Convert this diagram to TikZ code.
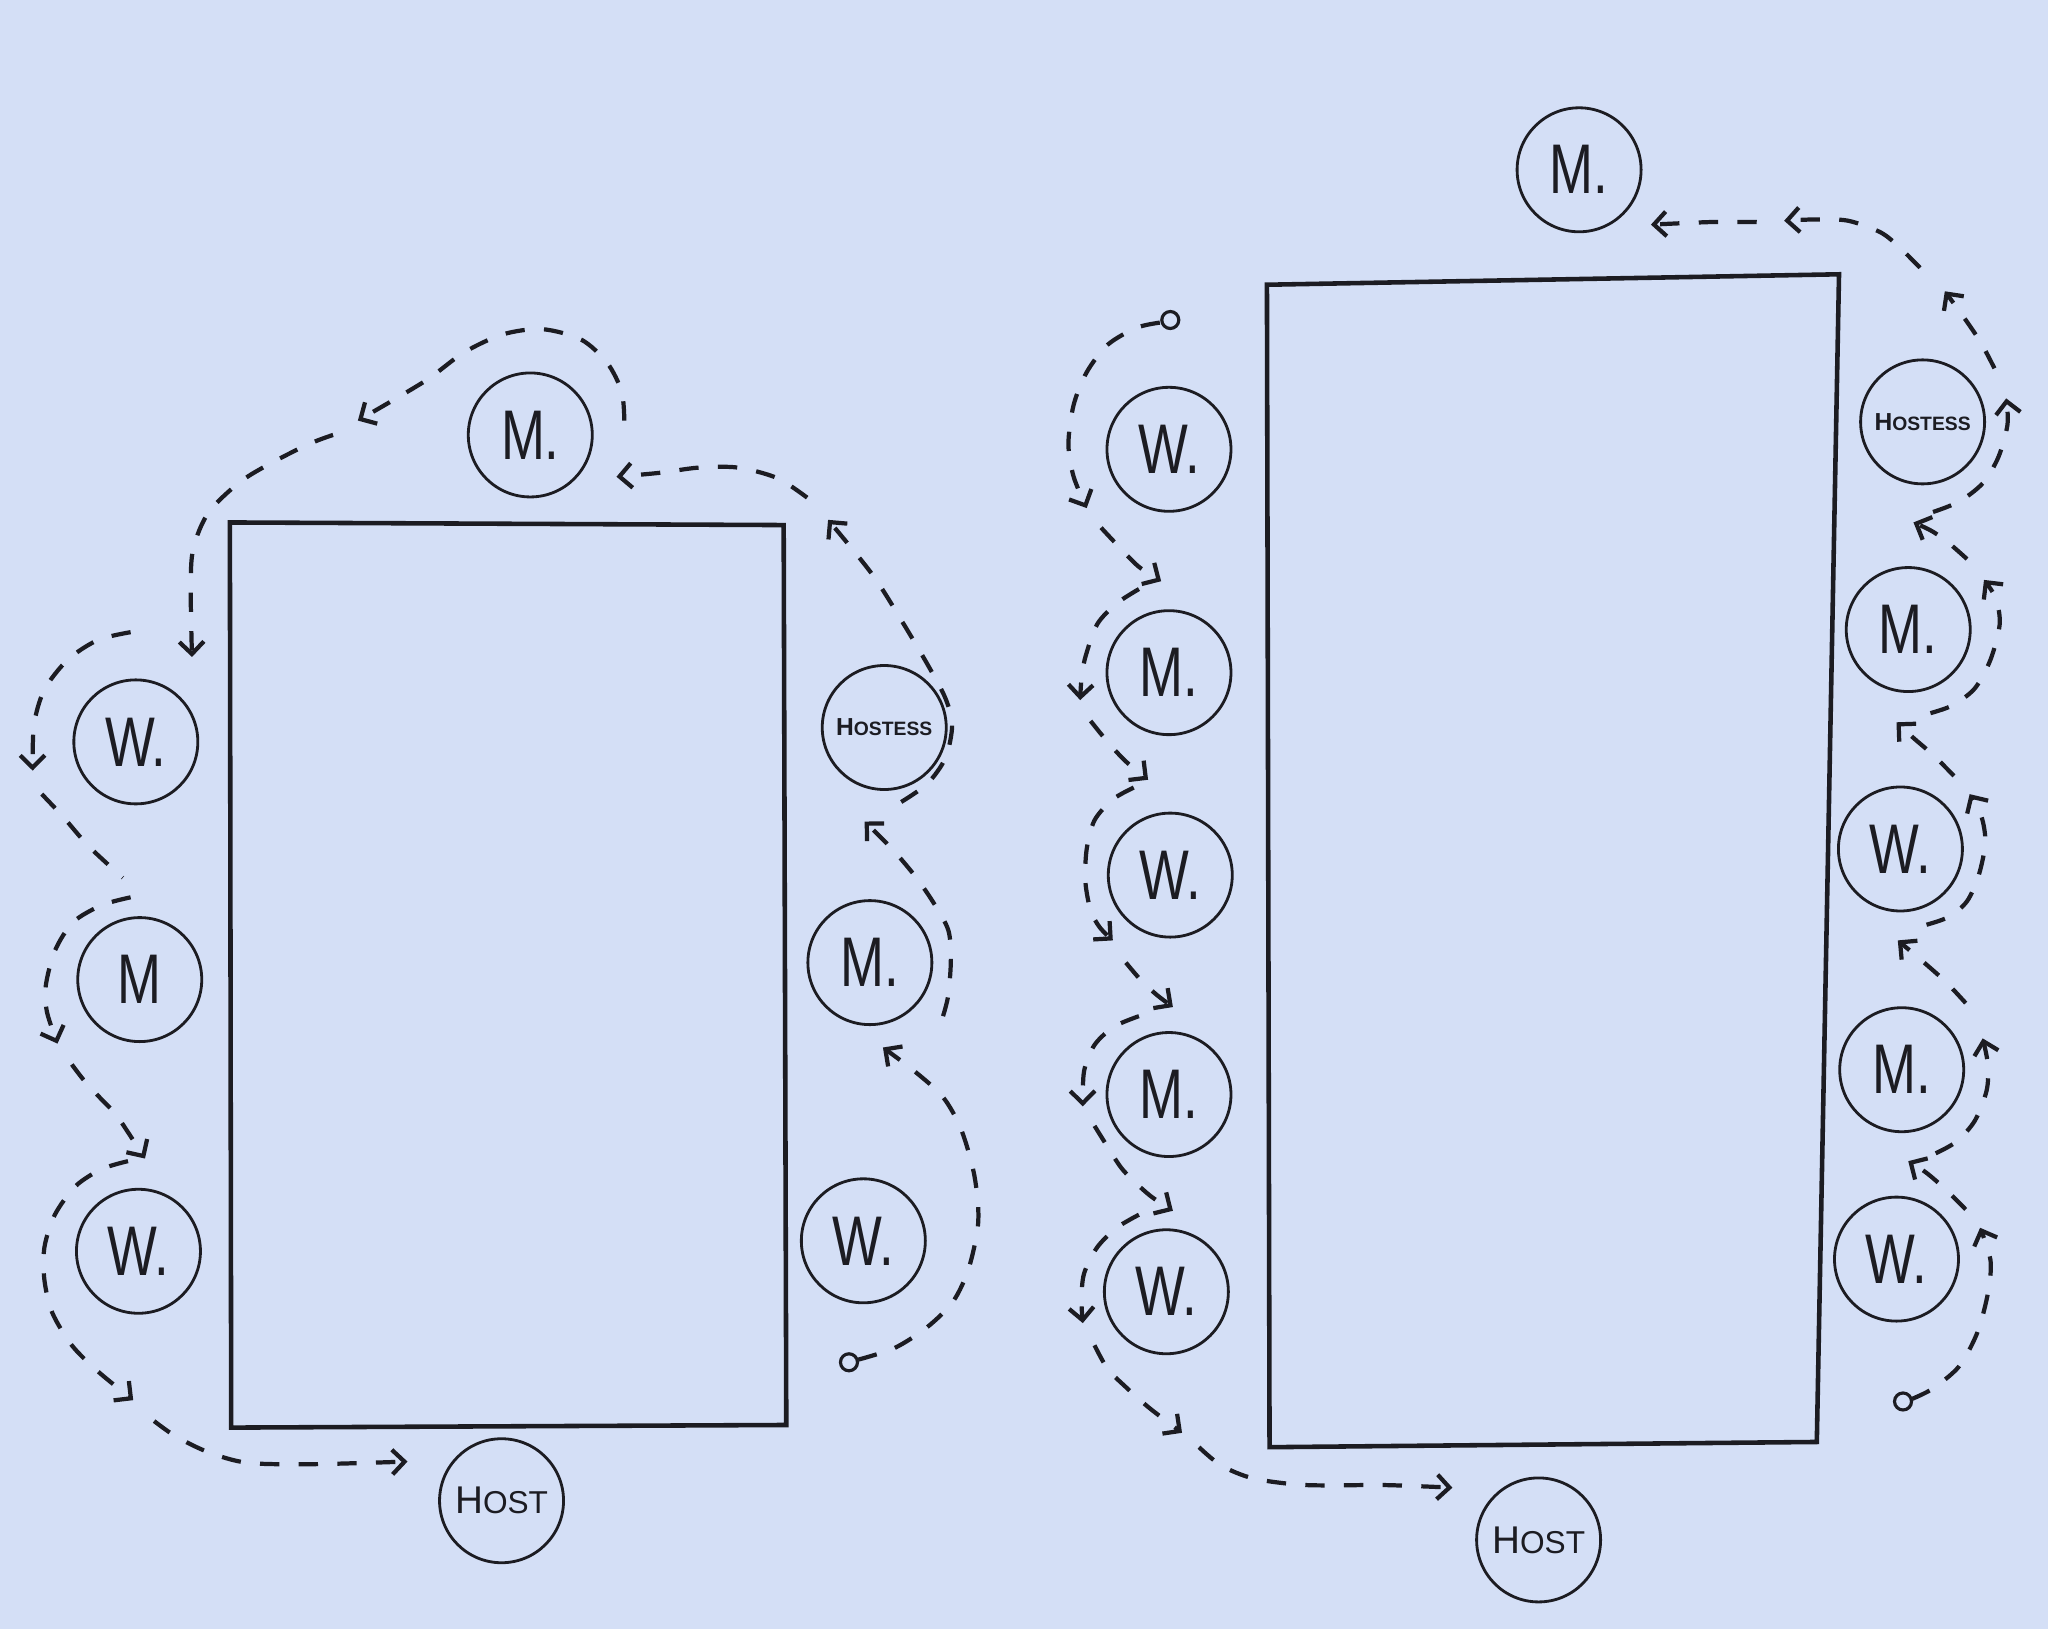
\documentclass[tikz,border=0pt]{standalone}
\usepackage{fontspec}
\setsansfont{Liberation Sans}
\usepackage{graphicx}
\usetikzlibrary{arrows.meta}
\definecolor{paper}{RGB}{212,223,246}
\definecolor{ink}{RGB}{28,28,34}
\tikzset{
  seat/.style={circle, draw=ink, line width=0.8pt, minimum size=1.24cm, inner sep=0pt,
    font=\sffamily\fontsize{20}{22}\selectfont, text=ink},
  startdot/.style={circle, draw=ink, line width=0.9pt, minimum size=0.17cm, inner sep=0pt},
  tablebox/.style={draw=ink, line width=1.3pt, line join=miter},
  route/.style={draw=ink, line width=1.2pt, dash pattern=on 5.5pt off 5.5pt,
    -{Straight Barb[length=3.5pt,width=7pt]}},
  routeplain/.style={draw=ink, line width=1.2pt, dash pattern=on 5.5pt off 5.5pt},
}
\newcommand{\lab}[1]{\scalebox{0.75}[1]{#1}}
\newcommand{\hostesslab}{{\bfseries\fontsize{7}{8}\selectfont H\fontsize{5.5}{6}\selectfont OSTESS}}
\newcommand{\hostlab}{{\fontsize{11}{12}\selectfont H\fontsize{9}{10}\selectfont OST}}
\begin{document}
\begin{tikzpicture}[x=0.01306cm, y=-0.01306cm]
\fill[paper] (0,0) rectangle (1568,1247);
\useasboundingbox (0,0) rectangle (1568,1247);

% ---------- tables ----------
\draw[tablebox] (176,400) -- (600,402) -- (602,1091) -- (177,1093) -- cycle;
\draw[tablebox] (970,218) -- (1408,210) -- (1391,1104) -- (972,1108) -- cycle;

% ---------- left diagram seats ----------
\node[seat] (LMt) at (406,333) {\lab{M.}};
\node[seat] (LW1) at (104,568) {\lab{W.}};
\node[seat] (LM2) at (107,750) {\lab{M}};
\node[seat] (LW3) at (106,958) {\lab{W.}};
\node[seat] (LHs) at (677,557) {\hostesslab};
\node[seat] (LMr) at (666,737) {\lab{M.}};
\node[seat] (LWr) at (661,950) {\lab{W.}};
\node[seat] (LHost) at (384,1149) {\hostlab};
\node[startdot] (Lstart) at (650,1043) {};

% ---------- right diagram seats ----------
\node[seat] (RMt) at (1209,130) {\lab{M.}};
\node[seat] (RW1) at (895,344) {\lab{W.}};
\node[seat] (RM2) at (895,515) {\lab{M.}};
\node[seat] (RW3) at (896,670) {\lab{W.}};
\node[seat] (RM4) at (895,838) {\lab{M.}};
\node[seat] (RW5) at (893,989) {\lab{W.}};
\node[seat] (RHs) at (1472,323) {\hostesslab};
\node[seat] (RM6) at (1461,482) {\lab{M.}};
\node[seat] (RW7) at (1455,650) {\lab{W.}};
\node[seat] (RM8) at (1456,819) {\lab{M.}};
\node[seat] (RW9) at (1452,964) {\lab{W.}};
\node[seat] (RHost) at (1178,1179) {\hostlab};
\node[startdot] (Rstart1) at (1457,1073) {};
\node[startdot] (Rstart2) at (896,245) {};

% ---------- left diagram routes ----------
\draw[route] plot[smooth] coordinates {(657,1041) (685,1032) (710,1016) (730,996) (742,970) (749,935) (746,900) (736,865) (722,840) (700,820) (676,802)};
\draw[route] plot[smooth] coordinates {(722,778) (726,762) (728,735) (726,712) (714,690) (700,670) (683,650) (662,629)};
\draw[route] plot[smooth] coordinates {(690,614) (710,600) (724,580) (729,555) (724,535) (712,512) (692,478) (668,440) (634,398)};
\draw[route] plot[smooth] coordinates {(618,381) (595,366) (565,358) (535,358) (505,362) (472,365)};
\draw[route] plot[smooth] coordinates {(478,322) (476,300) (465,278) (445,260) (415,252) (385,256) (355,270) (325,292) (274,322)};
\draw[route] plot[smooth] coordinates {(255,333) (232,342) (188,366) (160,392) (148,420) (146,450) (147,503)};
\draw[route] plot[smooth] coordinates {(100,484) (75,490) (52,505) (34,528) (26,555) (25,590)};
\draw[routeplain] plot[smooth] coordinates {(32,608) (48,625) (68,648) (94,672)};
\draw[route] plot[smooth] coordinates {(100,687) (78,693) (56,706) (42,728) (35,755) (36,775) (44,799)};
\draw[route] plot[smooth] coordinates {(55,815) (65,828) (78,842) (90,855) (111,887)};
\draw[route] plot[smooth] coordinates {(98,889) (78,895) (58,908) (42,930) (34,955) (34,980) (40,1005) (55,1030) (75,1050) (102,1072)};
\draw[route] plot[smooth] coordinates {(118,1088) (135,1100) (160,1112) (190,1120) (240,1121) (312,1119)};

% ---------- right diagram routes: left side ----------
\draw[route] plot[smooth] coordinates {(888,247) (870,251) (848,264) (832,285) (822,310) (818,340) (822,365) (832,389)};
\draw[route] plot[smooth] coordinates {(843,404) (858,420) (872,434) (889,445)};
\draw[route] plot[smooth] coordinates {(872,451) (855,462) (840,478) (831,503) (828,520) (827,536)};
\draw[route] plot[smooth] coordinates {(835,552) (848,568) (862,583) (879,597)};
\draw[route] plot[smooth] coordinates {(868,603) (852,612) (838,628) (832,650) (831,675) (835,697) (842,710) (852,720)};
\draw[route] plot[smooth] coordinates {(862,737) (874,751) (886,762) (898,771)};
\draw[route] plot[smooth] coordinates {(872,778) (853,786) (838,800) (830,820) (829,847)};
\draw[route] plot[smooth] coordinates {(838,862) (848,878) (860,896) (880,915) (898,927)};
\draw[route] plot[smooth] coordinates {(872,930) (855,940) (840,955) (830,975) (828,995) (829,1013)};
\draw[route] plot[smooth] coordinates {(838,1030) (848,1048) (862,1062) (880,1078) (905,1097)};
\draw[route] plot[smooth] coordinates {(918,1108) (935,1122) (960,1132) (1000,1137) (1060,1137) (1112,1139)};

% ---------- right diagram routes: right side ----------
\draw[route] plot[smooth] coordinates {(1464,1071) (1480,1063) (1500,1046) (1514,1020) (1522,990) (1524,965) (1516,940)};
\draw[route] plot[smooth] coordinates {(1505,926) (1490,911) (1475,898) (1461,889)};
\draw[route] plot[smooth] coordinates {(1482,883) (1498,874) (1512,858) (1521,835) (1522,815) (1518,795)};
\draw[route] plot[smooth] coordinates {(1505,768) (1490,752) (1472,736) (1453,720)};
\draw[route] plot[smooth] coordinates {(1475,708) (1492,702) (1506,690) (1515,670) (1520,645) (1517,625) (1508,608)};
\draw[route] plot[smooth] coordinates {(1496,594) (1480,578) (1465,565) (1452,553)};
\draw[route] plot[smooth] coordinates {(1478,546) (1495,540) (1512,527) (1524,505) (1531,478) (1528,458) (1519,444)};
\draw[route] plot[smooth] coordinates {(1506,428) (1490,414) (1478,406) (1465,400)};
\draw[route] plot[smooth] coordinates {(1480,392) (1500,384) (1518,370) (1530,350) (1537,325) (1536,305)};
\draw[route] plot[smooth] coordinates {(1527,282) (1517,263) (1505,245) (1489,223)};
\draw[route] plot[smooth] coordinates {(1470,205) (1455,190) (1440,178) (1415,169) (1390,168) (1366,169)};
\draw[route] plot[smooth] coordinates {(1345,170) (1310,170) (1264,172)};
\end{tikzpicture}
\end{document}
